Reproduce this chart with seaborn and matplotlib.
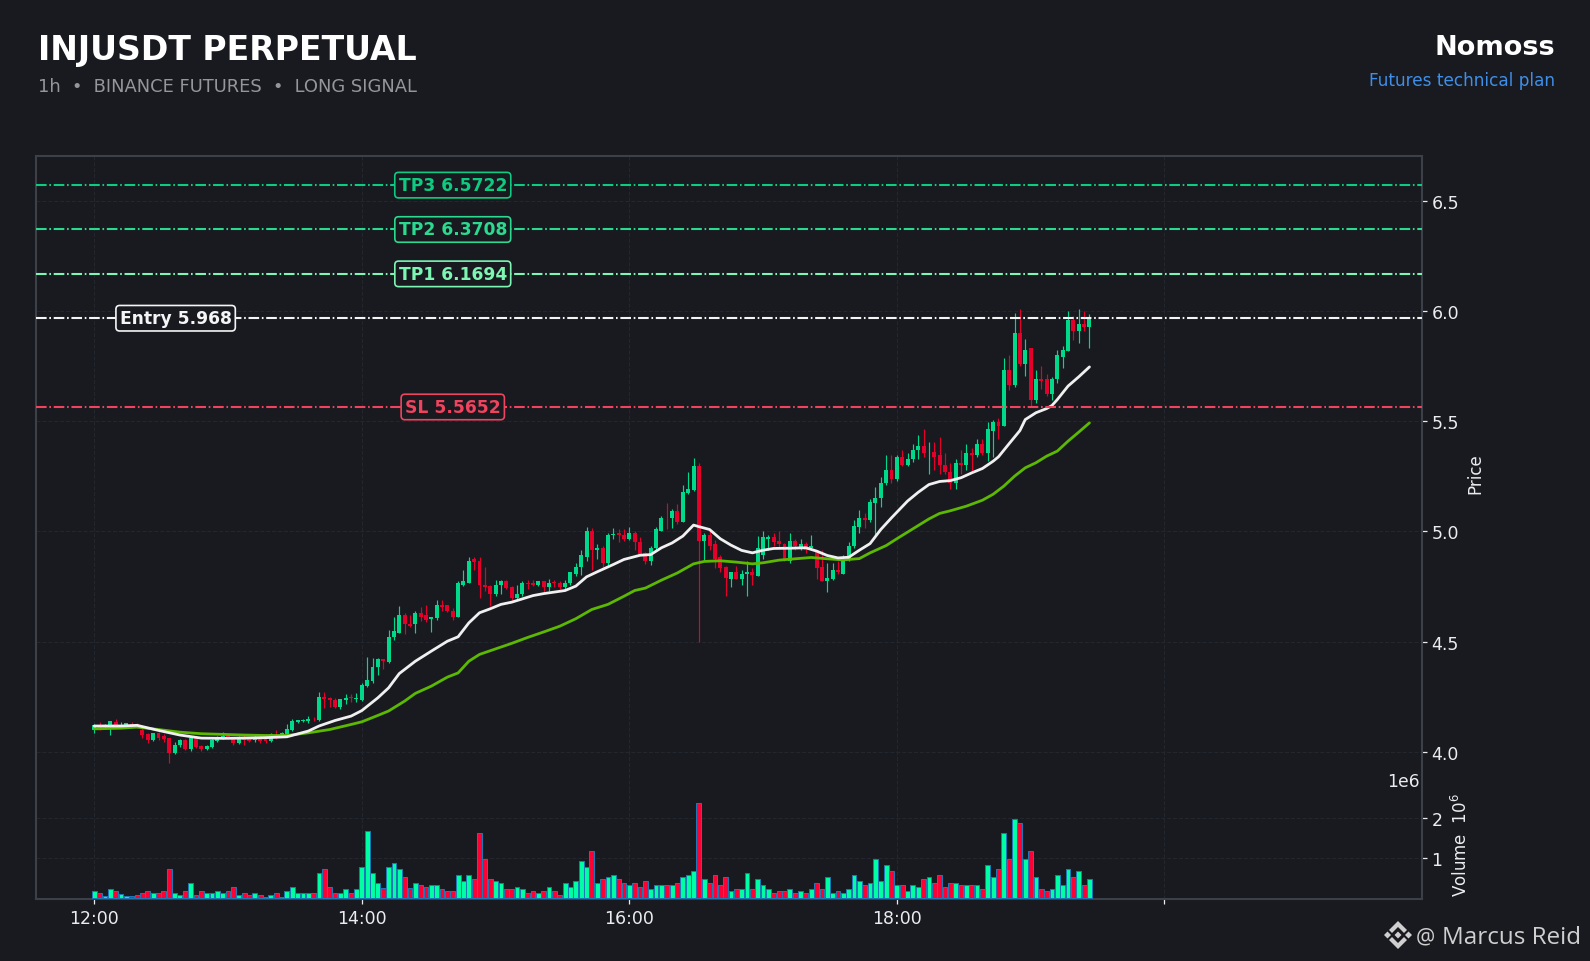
import numpy as np
import pandas as pd
import matplotlib
matplotlib.use("Agg")
import matplotlib.pyplot as plt
import seaborn as sns
from matplotlib.patches import Polygon
from matplotlib.transforms import IdentityTransform

opens = [
    4.101, 4.123, 4.114, 4.120, 4.136, 4.115, 4.120, 4.127, 4.127, 4.100,
    4.079, 4.053, 4.083, 4.070, 4.061, 3.993, 4.029, 4.053, 4.011, 4.061,
    4.024, 4.011, 4.020, 4.047, 4.062, 4.074, 4.056, 4.038, 4.059, 4.056,
    4.052, 4.061, 4.056, 4.048, 4.074, 4.071, 4.082, 4.101, 4.133, 4.138,
    4.138, 4.151, 4.145, 4.247, 4.242, 4.233, 4.204, 4.233, 4.250, 4.239,
    4.237, 4.298, 4.321, 4.384, 4.422, 4.408, 4.519, 4.541, 4.623, 4.581,
    4.578, 4.631, 4.623, 4.602, 4.605, 4.664, 4.664, 4.641, 4.614, 4.759,
    4.767, 4.873, 4.864, 4.759, 4.752, 4.714, 4.756, 4.773, 4.749, 4.696,
    4.714, 4.765, 4.764, 4.755, 4.773, 4.750, 4.770, 4.765, 4.750, 4.764,
    4.809, 4.837, 4.886, 5.004, 4.918, 4.927, 4.859, 4.985, 4.991, 4.986,
    4.968, 4.995, 4.954, 4.903, 4.864, 4.923, 5.004, 5.063, 5.059, 5.091,
    5.045, 5.175, 5.190, 5.299, 4.959, 4.986, 4.941, 4.882, 4.841, 4.786,
    4.814, 4.786, 4.805, 4.814, 4.800, 4.895, 4.968, 4.977, 4.959, 4.945,
    4.868, 4.959, 4.923, 4.941, 4.924, 4.909, 4.841, 4.777, 4.786, 4.823,
    4.809, 4.873, 4.932, 5.022, 5.063, 5.050, 5.131, 5.150, 5.218, 5.277,
    5.240, 5.336, 5.300, 5.327, 5.368, 5.386, 5.354, 5.359, 5.345, 5.304,
    5.272, 5.218, 5.313, 5.300, 5.354, 5.345, 5.395, 5.354, 5.458, 5.499,
    5.481, 5.731, 5.667, 5.903, 5.758, 5.831, 5.595, 5.694, 5.690, 5.626,
    5.690, 5.794, 5.821, 5.958, 5.908, 5.944, 5.930,
]
closes = [
    4.120, 4.106, 4.120, 4.138, 4.120, 4.123, 4.129, 4.117, 4.114, 4.074,
    4.053, 4.083, 4.064, 4.058, 3.993, 4.033, 4.052, 4.011, 4.061, 4.020,
    4.011, 4.024, 4.052, 4.068, 4.071, 4.062, 4.038, 4.056, 4.052, 4.048,
    4.068, 4.047, 4.048, 4.082, 4.062, 4.086, 4.104, 4.138, 4.142, 4.145,
    4.151, 4.147, 4.247, 4.238, 4.233, 4.204, 4.238, 4.245, 4.242, 4.242,
    4.302, 4.324, 4.387, 4.423, 4.413, 4.522, 4.546, 4.623, 4.578, 4.573,
    4.631, 4.614, 4.600, 4.610, 4.664, 4.659, 4.637, 4.614, 4.764, 4.773,
    4.868, 4.861, 4.755, 4.746, 4.714, 4.759, 4.773, 4.744, 4.700, 4.718,
    4.764, 4.761, 4.758, 4.773, 4.750, 4.768, 4.765, 4.750, 4.768, 4.814,
    4.841, 4.891, 5.004, 4.918, 4.927, 4.859, 4.986, 4.988, 4.982, 4.968,
    4.995, 4.950, 4.898, 4.864, 4.927, 5.009, 5.063, 5.060, 5.091, 5.041,
    5.181, 5.195, 5.299, 4.959, 4.986, 4.936, 4.877, 4.836, 4.791, 4.814,
    4.786, 4.809, 4.814, 4.802, 4.923, 4.973, 4.977, 4.954, 4.941, 4.877,
    4.959, 4.932, 4.941, 4.918, 4.933, 4.836, 4.777, 4.791, 4.823, 4.814,
    4.873, 4.936, 5.027, 5.063, 5.050, 5.136, 5.154, 5.222, 5.277, 5.240,
    5.336, 5.304, 5.331, 5.372, 5.386, 5.354, 5.357, 5.340, 5.300, 5.268,
    5.218, 5.313, 5.300, 5.354, 5.346, 5.395, 5.354, 5.463, 5.499, 5.481,
    5.731, 5.667, 5.903, 5.758, 5.826, 5.595, 5.694, 5.685, 5.626, 5.694,
    5.799, 5.826, 5.958, 5.908, 5.944, 5.930, 5.967,
]
highs = [
    4.124, 4.136, 4.126, 4.139, 4.151, 4.136, 4.132, 4.136, 4.130, 4.112,
    4.086, 4.086, 4.089, 4.082, 4.064, 4.044, 4.056, 4.056, 4.064, 4.067,
    4.029, 4.029, 4.056, 4.071, 4.089, 4.086, 4.067, 4.071, 4.079, 4.067,
    4.074, 4.071, 4.079, 4.085, 4.101, 4.089, 4.124, 4.147, 4.145, 4.151,
    4.162, 4.160, 4.272, 4.272, 4.247, 4.245, 4.241, 4.263, 4.262, 4.268,
    4.310, 4.431, 4.426, 4.426, 4.423, 4.552, 4.613, 4.662, 4.631, 4.622,
    4.638, 4.658, 4.667, 4.613, 4.690, 4.690, 4.667, 4.652, 4.773, 4.826,
    4.882, 4.885, 4.885, 4.837, 4.759, 4.779, 4.779, 4.779, 4.752, 4.758,
    4.773, 4.778, 4.779, 4.774, 4.776, 4.785, 4.782, 4.776, 4.782, 4.818,
    4.855, 4.914, 5.020, 5.015, 4.945, 4.936, 4.991, 5.018, 5.012, 5.012,
    5.021, 5.004, 4.976, 4.909, 4.932, 5.021, 5.071, 5.131, 5.100, 5.127,
    5.212, 5.272, 5.334, 5.311, 4.994, 5.000, 4.963, 4.895, 4.845, 4.818,
    4.845, 4.823, 4.868, 4.836, 4.980, 5.004, 4.986, 4.994, 5.000, 4.948,
    4.991, 4.968, 4.968, 4.954, 4.986, 4.918, 4.918, 4.855, 4.855, 4.864,
    4.891, 4.954, 5.053, 5.098, 5.086, 5.148, 5.200, 5.249, 5.345, 5.345,
    5.349, 5.372, 5.354, 5.395, 5.436, 5.466, 5.408, 5.408, 5.427, 5.354,
    5.309, 5.331, 5.368, 5.395, 5.377, 5.418, 5.418, 5.495, 5.508, 5.517,
    5.788, 5.803, 5.992, 6.012, 5.874, 5.831, 5.731, 5.749, 5.713, 5.703,
    5.822, 5.840, 5.999, 5.980, 6.008, 5.999, 5.989,
]
lows = [
    4.086, 4.101, 4.109, 4.076, 4.114, 4.109, 4.114, 4.114, 4.109, 4.062,
    4.041, 4.047, 4.053, 4.045, 3.947, 3.988, 4.023, 4.006, 4.005, 4.017,
    4.002, 4.009, 4.018, 4.044, 4.056, 4.056, 4.032, 4.036, 4.033, 4.044,
    4.044, 4.041, 4.038, 4.044, 4.059, 4.067, 4.076, 4.094, 4.130, 4.133,
    4.129, 4.139, 4.138, 4.197, 4.203, 4.200, 4.195, 4.216, 4.227, 4.226,
    4.230, 4.295, 4.313, 4.349, 4.378, 4.404, 4.508, 4.537, 4.534, 4.567,
    4.540, 4.593, 4.590, 4.544, 4.600, 4.641, 4.634, 4.597, 4.613, 4.752,
    4.764, 4.823, 4.700, 4.728, 4.662, 4.709, 4.715, 4.741, 4.690, 4.693,
    4.709, 4.741, 4.752, 4.752, 4.726, 4.728, 4.747, 4.741, 4.741, 4.758,
    4.799, 4.803, 4.864, 4.827, 4.877, 4.837, 4.850, 4.968, 4.950, 4.955,
    4.960, 4.918, 4.895, 4.853, 4.850, 4.918, 5.000, 5.009, 5.015, 5.033,
    5.042, 5.168, 5.186, 4.500, 4.865, 4.918, 4.836, 4.814, 4.709, 4.750,
    4.785, 4.755, 4.705, 4.759, 4.796, 4.873, 4.918, 4.933, 4.923, 4.864,
    4.858, 4.918, 4.915, 4.904, 4.918, 4.786, 4.773, 4.727, 4.782, 4.809,
    4.805, 4.868, 4.927, 4.994, 5.015, 5.045, 4.979, 5.109, 5.209, 5.221,
    5.227, 5.296, 5.296, 5.315, 5.327, 5.336, 5.263, 5.281, 5.259, 5.259,
    5.195, 5.191, 5.259, 5.281, 5.272, 5.340, 5.345, 5.318, 5.340, 5.422,
    5.477, 5.640, 5.658, 5.749, 5.708, 5.569, 5.584, 5.649, 5.613, 5.599,
    5.675, 5.740, 5.818, 5.867, 5.856, 5.912, 5.832,
]
volume_m = [
    .17, .13, .06, .22, .19, .11, .06, .06, .07, .12,
    .17, .12, .14, .17, .72, .14, .07, .19, .37, .09,
    .19, .12, .12, .17, .12, .19, .27, .07, .12, .07,
    .12, .09, .03, .07, .12, .03, .19, .27, .14, .14,
    .12, .12, .62, .74, .29, .14, .14, .24, .14, .22,
    .79, 1.69, .64, .37, .25, .77, .89, .72, .54, .25,
    .37, .33, .29, .32, .32, .22, .19, .19, .57, .44,
    .57, .49, 1.62, .99, .49, .42, .37, .22, .24, .27,
    .22, .14, .19, .14, .17, .27, .17, .09, .39, .27,
    .44, .92, .77, 1.17, .37, .47, .54, .59, .49, .39,
    .32, .39, .27, .42, .22, .32, .34, .34, .34, .37,
    .54, .57, .69, 2.39, .47, .39, .59, .34, .52, .17,
    .22, .24, .62, .22, .49, .32, .24, .14, .17, .19,
    .22, .12, .19, .12, .22, .39, .24, .52, .14, .17,
    .12, .24, .57, .42, .34, .39, .97, .42, .82, .69,
    .32, .34, .19, .34, .29, .49, .52, .37, .57, .27,
    .37, .39, .34, .34, .32, .34, .24, .82, .54, .74,
    1.62, .99, 1.97, 1.89, .97, 1.19, .52, .22, .17, .22,
    .59, .34, .72, .52, .69, .34, .47,
]

fast_idx = [0, 5, 8, 12, 16, 20, 24, 28, 32, 36, 40, 42, 45, 48, 50, 53, 55, 57, 60, 63,
            66, 68, 70, 72, 74, 76, 78, 80, 82, 84, 86, 88, 90, 92, 94, 97, 99, 102, 104, 106,
            108, 110, 112, 113, 115, 117, 119, 121, 123, 125, 127, 130, 133, 135, 137, 139, 141, 143, 145, 147,
            149, 152, 154, 156, 158, 160, 162, 164, 166, 168, 169, 171, 173, 174, 176, 178, 179, 180, 182, 184, 186]
fast_ema = [4.117, 4.117, 4.120, 4.097, 4.076, 4.062, 4.061, 4.062, 4.064, 4.068, 4.094, 4.117, 4.142, 4.162, 4.187, 4.245, 4.290, 4.355, 4.411, 4.457,
            4.502, 4.522, 4.585, 4.631, 4.649, 4.669, 4.679, 4.694, 4.709, 4.718, 4.725, 4.732, 4.752, 4.794, 4.817, 4.850, 4.873, 4.892, 4.895, 4.926,
            4.948, 4.979, 5.029, 5.022, 5.009, 4.967, 4.938, 4.914, 4.903, 4.915, 4.923, 4.924, 4.926, 4.911, 4.891, 4.880, 4.883, 4.915, 4.945, 5.009,
            5.062, 5.138, 5.178, 5.213, 5.227, 5.231, 5.244, 5.266, 5.286, 5.319, 5.339, 5.399, 5.458, 5.508, 5.539, 5.558, 5.572, 5.599, 5.660, 5.702, 5.747]
slow_idx = [0, 5, 8, 12, 16, 20, 24, 28, 32, 36, 40, 44, 48, 50, 53, 55, 58, 60, 63, 66,
            68, 70, 72, 75, 78, 81, 84, 87, 90, 93, 96, 99, 101, 103, 106, 109, 112, 114, 117, 120,
            123, 125, 128, 131, 134, 137, 140, 143, 145, 148, 150, 153, 156, 158, 160, 163, 166, 168, 170, 172,
            174, 176, 178, 180, 182, 184, 186]
slow_ema = [4.104, 4.107, 4.112, 4.101, 4.089, 4.082, 4.079, 4.076, 4.074, 4.074, 4.086, 4.101, 4.124, 4.136, 4.165, 4.185, 4.230, 4.265, 4.298, 4.339,
            4.358, 4.411, 4.442, 4.467, 4.492, 4.519, 4.544, 4.570, 4.604, 4.646, 4.669, 4.706, 4.732, 4.743, 4.779, 4.812, 4.853, 4.864, 4.867, 4.861,
            4.853, 4.858, 4.870, 4.876, 4.882, 4.876, 4.871, 4.877, 4.903, 4.936, 4.967, 5.012, 5.057, 5.082, 5.094, 5.115, 5.142, 5.169, 5.206, 5.251,
            5.289, 5.312, 5.342, 5.365, 5.410, 5.451, 5.493]

level_values = [6.5722, 6.3708, 6.1694, 5.968, 5.5652]
level_labels = ["TP3 6.5722", "TP2 6.3708", "TP1 6.1694", "Entry 5.968", "SL 5.5652"]
level_colors = ["#0ecb81", "#2bd98f", "#7df5b3", "#f5f5f5", "#f0435e"]
level_label_x = [67, 67, 67, 15.2, 67]

time_ticks = [0, 50, 100, 150, 200]
time_labels = ["12:00", "14:00", "16:00", "18:00", ""]
price_ticks = [4.0, 4.5, 5.0, 5.5, 6.0, 6.5]
volume_ticks = [1e6, 2e6]

BG = "#181a20"
TXT = "#eaecef"
FRAME = "#3c4149"
GRID = "#23262c"
UP = "#00d88a"
DOWN = "#e4002b"
VOL_UP = "#00ffa3"
VOL_DOWN = "#ff0033"

sns.set_theme(style="dark", rc={
    "figure.facecolor": BG,
    "axes.facecolor": BG,
    "savefig.facecolor": BG,
    "text.color": TXT,
    "axes.labelcolor": TXT,
    "xtick.color": TXT,
    "ytick.color": TXT,
})
plt.rcParams["font.family"] = ["DejaVu Sans"]

candles = pd.DataFrame({"o": opens, "c": closes, "h": highs, "l": lows, "v": np.array(volume_m) * 1e6})
candles["idx"] = np.arange(len(candles))
candles["side"] = np.where(candles["c"] >= candles["o"], "up", "down")

W, H = 1590, 962
fig = plt.figure(figsize=(W / 100, H / 100), dpi=100)
left, right, top, split, bottom = 36.3, 1421.7, 157, 791, 900
ax = fig.add_axes([left / W, 1 - split / H, (right - left) / W, (split - top) / H])
ax_vol = fig.add_axes([left / W, 1 - bottom / H, (right - left) / W, (bottom - split) / H])

# candles
body_colors = candles["side"].map({"up": UP, "down": DOWN})
ax.vlines(candles["idx"], candles["l"], candles["h"], colors=body_colors, linewidth=0.85, zorder=2)
ax.bar(candles["idx"], (candles["c"] - candles["o"]).abs(), bottom=candles[["o", "c"]].min(axis=1),
       width=0.74, color=body_colors, linewidth=0, zorder=3)

# moving averages
sns.lineplot(x=fast_idx, y=fast_ema, color="#f0f0f0", linewidth=2.0, ax=ax, zorder=5)
sns.lineplot(x=slow_idx, y=slow_ema, color="#5cb800", linewidth=2.0, ax=ax, zorder=4)

for value, label, color, label_x in zip(level_values, level_labels, level_colors, level_label_x):
    ax.axhline(value, color=color, linewidth=1.5, linestyle=(0, (5.1, 1.3, 0.8, 1.3)), zorder=6)
    ax.text(label_x, value, label, color=color, fontsize=12.3, fontweight="bold", ha="center", va="center", zorder=7,
            bbox=dict(boxstyle="round,pad=0.22", facecolor=BG, edgecolor=color, linewidth=1.2))

ax.set_xlim(-10.84, 248.1)
ax.set_ylim(3.8265, 6.7044)
ax.set_xticks(time_ticks)
ax.set_yticks(price_ticks)
ax.set_yticklabels([f"{t:.1f}" for t in price_ticks])
ax.yaxis.tick_right()
ax.yaxis.set_label_position("right")
ax.set_ylabel("Price", fontsize=12, labelpad=5)
ax.set_xlabel("")
ax.tick_params(axis="x", bottom=False, labelbottom=False)
ax.tick_params(axis="y", right=True, length=3.5, width=0.9, labelsize=12.5, pad=3.5)

# volume
sns.barplot(data=candles, x="idx", y="v", hue="side", palette={"up": VOL_UP, "down": VOL_DOWN},
            native_scale=True, dodge=False, width=0.9, saturation=1, errorbar=None, legend=False,
            edgecolor="#1f77b4", linewidth=0.75, ax=ax_vol, zorder=3)
ax_vol.set_xlim(-10.84, 248.1)
ax_vol.set_ylim(-0.02e6, 2.7075e6)
ax_vol.set_xticks(time_ticks)
ax_vol.set_xticklabels(time_labels)
ax_vol.set_yticks(volume_ticks)
ax_vol.yaxis.tick_right()
ax_vol.yaxis.set_label_position("right")
ax_vol.set_xlabel("")
ax_vol.set_ylabel("Volume  $10^{6}$", fontsize=12, labelpad=6)
ax_vol.tick_params(axis="x", bottom=True, length=3.5, width=0.9, labelsize=12.5, pad=3.4)
ax_vol.tick_params(axis="y", right=True, length=3.5, width=0.9, labelsize=12.5, pad=3.5)
ax_vol.yaxis.get_offset_text().set_fontsize(12.3)
ax_vol.yaxis.get_offset_text().set_color(TXT)
ax_vol.yaxis.get_offset_text().set_x(0.9985)

for a in (ax, ax_vol):
    a.set_axisbelow(True)
    a.grid(True, color=GRID, linestyle="--", linewidth=0.8)
    for side in a.spines:
        a.spines[side].set_visible(True)
        a.spines[side].set_color(FRAME)
        a.spines[side].set_linewidth(1.5)
ax.spines["bottom"].set_visible(False)
ax_vol.spines["top"].set_visible(False)
ax_vol.patch.set_alpha(0)


def put(x, y, s, **kw):
    # pixel position, baseline, measured from the top left
    fig.text(x / W, 1 - y / H, s, va="baseline", **kw)


put(38.5, 60, "INJUSDT PERPETUAL", fontsize=23.9, fontweight="bold", color="white")
put(38.5, 92.3, "1h  •  BINANCE FUTURES  •  LONG SIGNAL", fontsize=12.85, color="#94969b")
put(1555, 55, "Nomoss", fontsize=19.5, fontweight="bold", color="white", ha="right")
put(1555, 86, "Futures technical plan", fontsize=12.2, color="#3f8fe8", ha="right")
put(1416, 944, "@", fontsize=15.5, color="#cfcfcf", family="Open Sans")
put(1442.5, 944, "Marcus Reid", fontsize=17.5, color="#cfcfcf", family="Open Sans")


def diamond(cx, cy, r):
    return [(cx - r, cy), (cx, cy - r), (cx + r, cy), (cx, cy + r)]


# exchange logo drawn in pixels
lx, ly = 1398, 936
logo_parts = [diamond(lx, ly, 3.5), diamond(lx - 10.5, ly, 3.5), diamond(lx + 10.5, ly, 3.5),
              [(lx, ly - 14), (lx + 9, ly - 5), (lx + 6, ly - 2), (lx, ly - 8), (lx - 6, ly - 2), (lx - 9, ly - 5)],
              [(lx, ly + 14), (lx + 9, ly + 5), (lx + 6, ly + 2), (lx, ly + 8), (lx - 6, ly + 2), (lx - 9, ly + 5)]]
for part in logo_parts:
    fig.add_artist(Polygon([(px, H - py) for px, py in part], closed=True, facecolor="#cfcfcf",
                           edgecolor="none", transform=IdentityTransform()))

fig.savefig("out.png", dpi=100, facecolor=BG)
